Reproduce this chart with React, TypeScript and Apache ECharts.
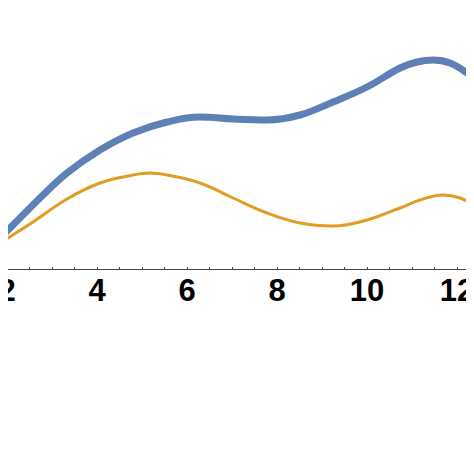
import React, { useEffect, useRef } from "react";
import * as echarts from "echarts";

const xBlue = [1.844, 2.289, 2.733, 3.333, 4.067, 4.8, 5.556, 6.289, 7.022, 7.778, 8.511, 9.244, 10.0, 10.733, 11.111, 11.467, 11.844, 12.222, 12.378];
const yBlue = [0.31, 0.51, 0.71, 0.96, 1.19, 1.36, 1.47, 1.52, 1.5, 1.49, 1.54, 1.67, 1.82, 2.01, 2.07, 2.09, 2.06, 1.96, 1.89];
const xOrange = [1.844, 2.578, 3.333, 4.067, 4.8, 5.178, 5.556, 6.289, 7.022, 7.778, 8.511, 9.244, 10.0, 10.733, 11.178, 11.689, 12.067, 12.378];
const yOrange = [0.26, 0.47, 0.7, 0.86, 0.94, 0.96, 0.94, 0.86, 0.71, 0.56, 0.46, 0.43, 0.49, 0.61, 0.69, 0.74, 0.71, 0.64];
const xTicks = [0, 2, 4, 6, 8, 10, 12, 14];

export default function App() {
  const ref = useRef<HTMLDivElement>(null);
  useEffect(() => {
    if (!ref.current) return;
    const chart = echarts.init(ref.current, null, { renderer: "svg" });
    chart.setOption({
      animation: false,
      grid: { left: -83, width: 630, top: 0, bottom: 205, containLabel: false, outerBoundsMode: "none" },
      xAxis: {
        type: "value",
        min: xTicks[0],
        max: xTicks[xTicks.length - 1],
        interval: 2,
        axisLine: { show: true, lineStyle: { color: "#444", width: 1 } },
        axisTick: { show: true, inside: true, length: 2, lineStyle: { color: "#444" } },
        minorTick: { show: true, splitNumber: 4, length: 2, lineStyle: { color: "#444" } },
        splitLine: { show: false },
        axisLabel: {
          color: "#000",
          fontFamily: "Liberation Sans",
          fontWeight: "bold",
          fontSize: 31,
          margin: 6,
        },
      },
      yAxis: {
        type: "value",
        min: 0,
        max: 2.69,
        show: false,
      },
      series: [
        {
          type: "line",
          smooth: 0.4,
          showSymbol: false,
          data: xBlue.map((x, i) => [x, yBlue[i]]),
          lineStyle: { color: "#5E81B5", width: 7 },
        },
        {
          type: "line",
          smooth: 0.4,
          showSymbol: false,
          data: xOrange.map((x, i) => [x, yOrange[i]]),
          lineStyle: { color: "#E19C24", width: 3 },
        },
      ],
    });
    return () => chart.dispose();
  }, []);
  return <div ref={ref} style={{ width: 474, height: 474, margin: -8 }} />;
}
